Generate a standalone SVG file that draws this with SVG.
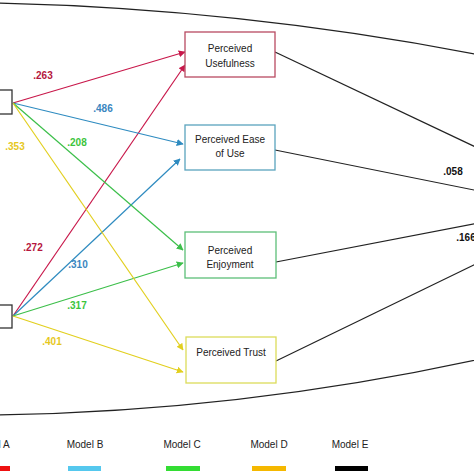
<svg xmlns="http://www.w3.org/2000/svg" width="474" height="474" viewBox="0 0 474 474">
<defs>
<style>
.box{fill:#fff;stroke-width:1.3}
.t{font-family:"Liberation Sans",Arial,sans-serif;font-size:10px;fill:#222;text-anchor:middle}
.lb{font-family:"Liberation Sans",Arial,sans-serif;font-size:10px;font-weight:bold;text-anchor:middle}
.c{fill:none;stroke-width:1.2}
</style>
<marker id="mr" viewBox="0 0 10 10" refX="9" refY="5" markerWidth="7" markerHeight="7" orient="auto" markerUnits="userSpaceOnUse"><path d="M0,0L10,5L0,10z" fill="#c8174a"/></marker>
<marker id="mb" viewBox="0 0 10 10" refX="9" refY="5" markerWidth="7" markerHeight="7" orient="auto" markerUnits="userSpaceOnUse"><path d="M0,0L10,5L0,10z" fill="#2e8bc0"/></marker>
<marker id="mg" viewBox="0 0 10 10" refX="9" refY="5" markerWidth="7" markerHeight="7" orient="auto" markerUnits="userSpaceOnUse"><path d="M0,0L10,5L0,10z" fill="#3cbf4a"/></marker>
<marker id="my" viewBox="0 0 10 10" refX="9" refY="5" markerWidth="7" markerHeight="7" orient="auto" markerUnits="userSpaceOnUse"><path d="M0,0L10,5L0,10z" fill="#e2cf1e"/></marker>
</defs>
<rect width="474" height="474" fill="#fff"/>
<g id="connectors">
<path class="c" stroke="#222" d="M-10,3 Q237,8 480,55"/>
<path class="c" stroke="#222" d="M-10,415 Q237,412 480,359"/>
<line class="c" stroke="#c8174a" x1="13" y1="103" x2="185" y2="52" marker-end="url(#mr)"/>
<line class="c" stroke="#c8174a" x1="13" y1="316" x2="185" y2="65" marker-end="url(#mr)"/>
<line class="c" stroke="#2e8bc0" x1="13" y1="103" x2="183" y2="144" marker-end="url(#mb)"/>
<line class="c" stroke="#2e8bc0" x1="13" y1="316" x2="180" y2="159" marker-end="url(#mb)"/>
<line class="c" stroke="#3cbf4a" x1="13" y1="103" x2="183" y2="250" marker-end="url(#mg)"/>
<line class="c" stroke="#3cbf4a" x1="13" y1="316" x2="183" y2="263" marker-end="url(#mg)"/>
<line class="c" stroke="#e2cf1e" x1="13" y1="103" x2="183" y2="350" marker-end="url(#my)"/>
<line class="c" stroke="#e2cf1e" x1="13" y1="316" x2="183" y2="372" marker-end="url(#my)"/>
<line class="c" stroke="#222" x1="275" y1="52" x2="484" y2="151"/>
<line class="c" stroke="#222" x1="275" y1="150" x2="484" y2="192"/>
<line class="c" stroke="#222" x1="276" y1="262" x2="484" y2="222"/>
<line class="c" stroke="#222" x1="276" y1="361" x2="484" y2="260"/>
<text class="lb" x="43" y="79" fill="#b5163d">.263</text>
<text class="lb" x="103" y="112" fill="#3a86c0">.486</text>
<text class="lb" x="77" y="146" fill="#3cc43c">.208</text>
<text class="lb" x="15" y="150" fill="#e6c81e">.353</text>
<text class="lb" x="33" y="251" fill="#b5163d">.272</text>
<text class="lb" x="78" y="268" fill="#3a86c0">.310</text>
<text class="lb" x="77" y="309" fill="#3cc43c">.317</text>
<text class="lb" x="52" y="345" fill="#e6c81e">.401</text>
<text class="lb" x="453" y="175" fill="#111">.058</text>
<text class="lb" x="466" y="241" fill="#111">.166</text>
</g>
<g id="src1"><rect class="box" x="-10" y="90" width="22" height="24" stroke="#333"/></g>
<g id="src2"><rect class="box" x="-10" y="305" width="22" height="23" stroke="#333"/></g>
<g id="pu"><rect class="box" x="185" y="32" width="90" height="45" stroke="#b84a62"/>
<text class="t" x="230" y="52">Perceived</text><text class="t" x="230" y="67">Usefulness</text></g>
<g id="peu"><rect class="box" x="185" y="125" width="90" height="45" stroke="#5aa4bd"/>
<text class="t" x="230" y="143">Perceived Ease</text><text class="t" x="230" y="157">of Use</text></g>
<g id="pe"><rect class="box" x="185" y="232" width="91" height="46" stroke="#5cbf78"/>
<text class="t" x="230" y="254">Perceived</text><text class="t" x="230" y="268">Enjoyment</text></g>
<g id="pt"><rect class="box" x="186" y="337" width="90" height="46" stroke="#dcdc5a"/>
<text class="t" x="231" y="356">Perceived Trust</text></g>
<g id="legend">
<text class="t" x="4" y="448">l A</text>
<text class="t" x="85" y="448">Model B</text>
<text class="t" x="182" y="448">Model C</text>
<text class="t" x="269" y="448">Model D</text>
<text class="t" x="350" y="448">Model E</text>
<rect x="-2" y="466" width="12" height="5" fill="#ee1111"/>
<rect x="68" y="466" width="33" height="5" fill="#55c8ee"/>
<rect x="166" y="466" width="34" height="5" fill="#33dd33"/>
<rect x="252" y="466" width="34" height="5" fill="#f5b800"/>
<rect x="335" y="466" width="33" height="5" fill="#000"/>
</g>
</svg>
